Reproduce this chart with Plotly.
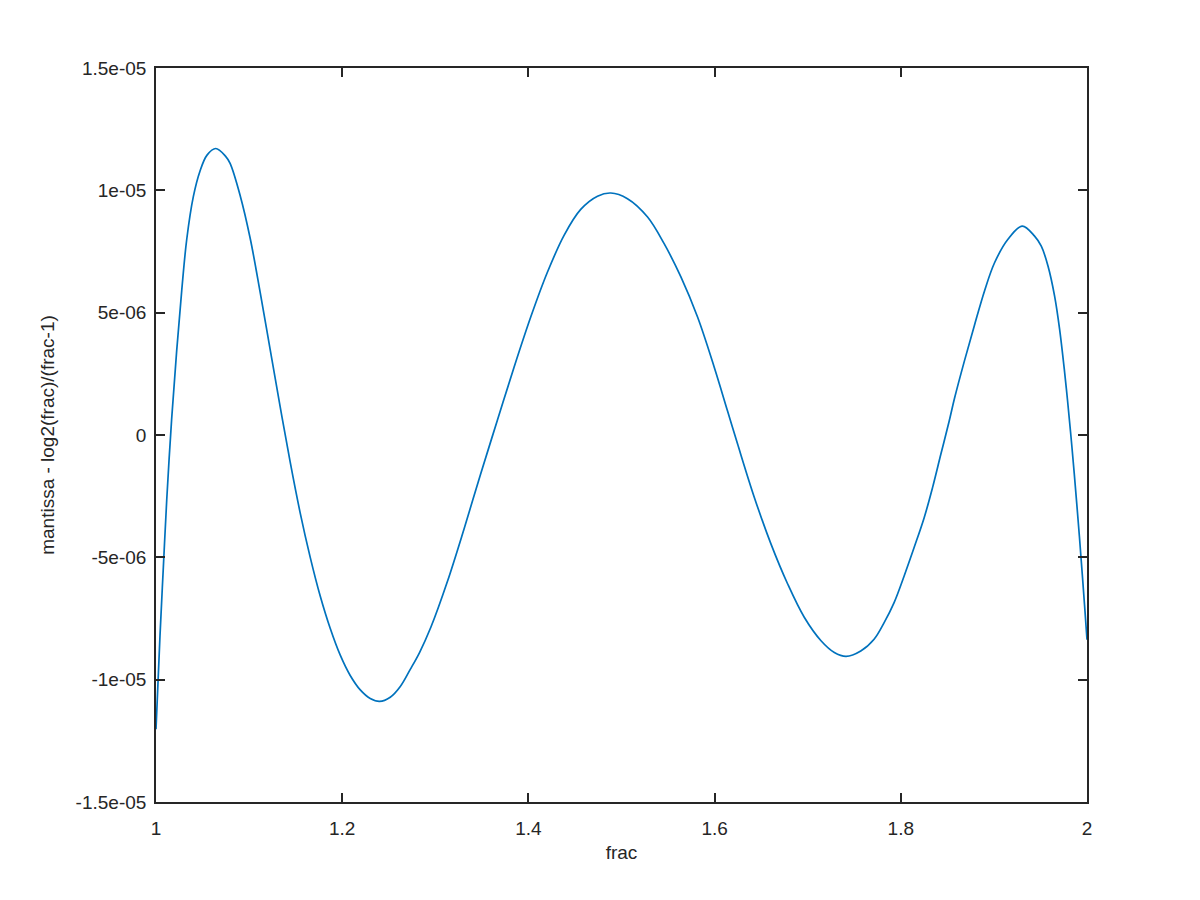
"""Octave 風格的 mantissa 誤差曲線"""

import plotly.graph_objects as go

# === 曲線資料 ===
frac = [
    1.0000, 1.0043, 1.0079, 1.0115, 1.0168, 1.0222, 1.0276, 1.0330, 1.0401,
    1.0473, 1.0548, 1.0642, 1.0746, 1.0796, 1.0903, 1.1011, 1.1118, 1.1226,
    1.1333, 1.1441, 1.1548, 1.1656, 1.1763, 1.1871, 1.1978, 1.2086, 1.2194,
    1.2301, 1.2401, 1.2516, 1.2624, 1.2731, 1.2832, 1.2951, 1.3129, 1.3308,
    1.3487, 1.3666, 1.3846, 1.4025, 1.4204, 1.4383, 1.4562, 1.4742, 1.4885,
    1.5064, 1.5280, 1.5458, 1.5638, 1.5817, 1.5996, 1.6140, 1.6247, 1.6426,
    1.6605, 1.6785, 1.6963, 1.7143, 1.7286, 1.7412, 1.7570, 1.7713, 1.7821,
    1.7928, 1.8036, 1.8143, 1.8251, 1.8341, 1.8430, 1.8520, 1.8577, 1.8685,
    1.8792, 1.8900, 1.9007, 1.9151, 1.9305, 1.9437, 1.9509, 1.9581, 1.9652,
    1.9706, 1.9760, 1.9792, 1.9828, 1.9864, 1.9918, 1.9953, 1.9978, 2.0000,
]
err_e6 = [
    -12.03, -8.20, -5.40, -2.67, 0.65, 3.44, 5.89, 7.99, 9.74,
    10.79, 11.44, 11.71, 11.40, 11.10, 9.80, 8.05, 5.85, 3.50,
    1.17, -1.10, -3.17, -4.99, -6.57, -7.90, -8.99, -9.83, -10.42,
    -10.77, -10.89, -10.72, -10.28, -9.58, -8.88, -7.87, -6.00, -3.85,
    -1.59, 0.59, 2.77, 4.82, 6.65, 8.16, 9.22, 9.76, 9.89,
    9.66, 8.91, 7.82, 6.46, 4.82, 2.77, 0.97, -0.37, -2.54,
    -4.45, -6.09, -7.45, -8.41, -8.89, -9.05, -8.83, -8.35, -7.67,
    -6.85, -5.76, -4.60, -3.38, -2.15, -0.79, 0.57, 1.50, 3.05,
    4.50, 5.90, 7.04, 8.00, 8.54, 8.13, 7.72, 6.91, 5.68,
    4.32, 2.55, 1.37, -0.07, -1.62, -4.13, -5.88, -7.18, -8.37,
]
err = [v * 1e-6 for v in err_e6]

# 刻度
X_TICKS = [1, 1.2, 1.4, 1.6, 1.8, 2]
X_TICK_TEXT = ['1', '1.2', '1.4', '1.6', '1.8', '2']
Y_TICKS = [-1.5e-05, -1e-05, -5e-06, 0, 5e-06, 1e-05, 1.5e-05]
Y_TICK_TEXT = ['-1.5e-05', '-1e-05', '-5e-06', '0', '5e-06', '1e-05', '1.5e-05']

COLORS = {
    'line': '#0072BD',
    'axis': '#262626',
}
FONT = 'Liberation Sans, Arial, sans-serif'
FONT_SIZE = 19

fig = go.Figure()
fig.add_trace(go.Scatter(
    x=frac,
    y=err,
    mode='lines',
    line=dict(color=COLORS['line'], width=1.7, shape='spline', smoothing=1.0),
    showlegend=False,
))

axis_common = dict(
    showgrid=False,
    zeroline=False,
    showline=True,
    linecolor=COLORS['axis'],
    linewidth=1.6,
    mirror='allticks',
    ticks='inside',
    ticklen=9,
    tickwidth=1.6,
    tickcolor=COLORS['axis'],
    tickfont=dict(family=FONT, size=FONT_SIZE, color=COLORS['axis']),
)

fig.update_layout(
    width=1200,
    height=900,
    paper_bgcolor='white',
    plot_bgcolor='white',
    margin=dict(l=148, r=121, t=60, b=106),
    font=dict(family=FONT, size=FONT_SIZE, color=COLORS['axis']),
    xaxis=dict(
        **axis_common,
        range=[1, 2],
        tickvals=X_TICKS,
        ticktext=X_TICK_TEXT,
        ticklabelstandoff=8,
        title=dict(text='frac', standoff=8,
                   font=dict(family=FONT, size=FONT_SIZE, color=COLORS['axis'])),
    ),
    yaxis=dict(
        **axis_common,
        range=[-1.5e-05, 1.5e-05],
        tickvals=Y_TICKS,
        ticktext=Y_TICK_TEXT,
        ticklabelstandoff=4,
        title=dict(text='mantissa - log2(frac)/(frac-1)', standoff=16,
                   font=dict(family=FONT, size=FONT_SIZE, color=COLORS['axis'])),
    ),
)

fig.write_html("out.html")
